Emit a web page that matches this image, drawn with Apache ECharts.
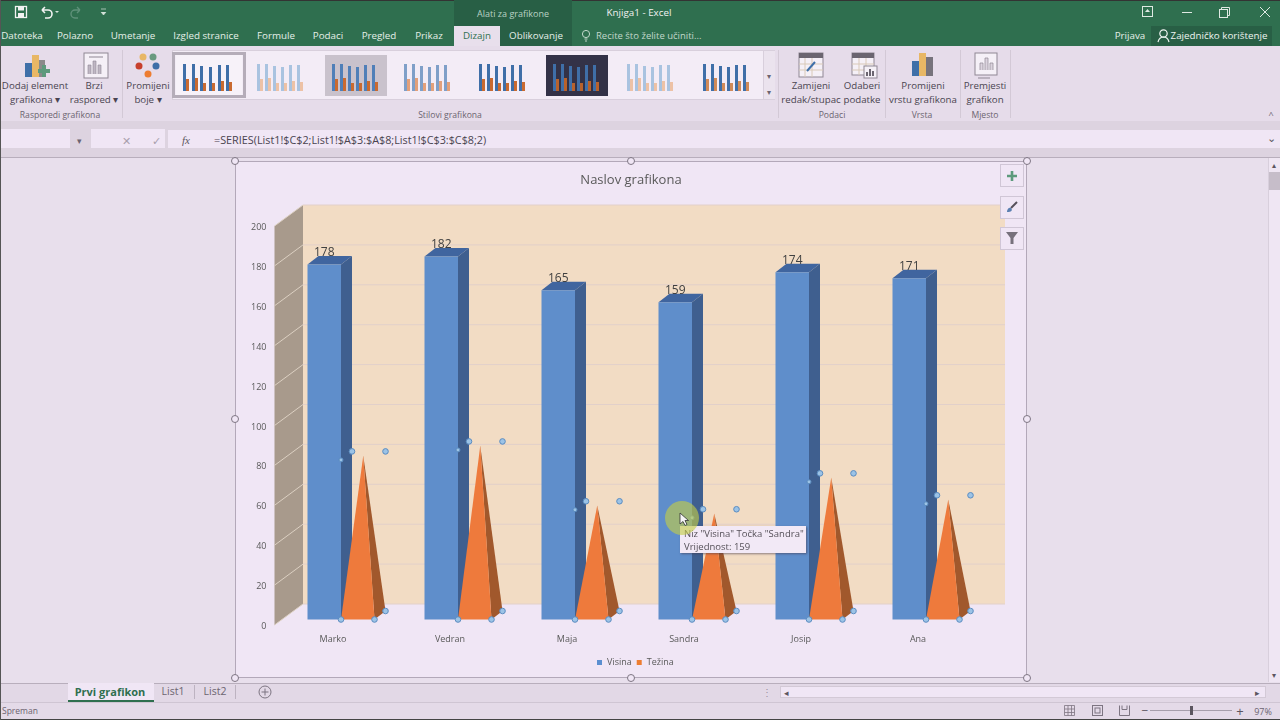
<!DOCTYPE html>
<html>
<head>
<meta charset="utf-8">
<title>Knjiga1 - Excel</title>
<script src="https://cdn.jsdelivr.net/npm/echarts@6/dist/echarts.min.js"></script>
<style>
  html, body { margin: 0; padding: 0; }
  body { width: 1280px; height: 720px; overflow: hidden; position: relative; background: #e8dfec; font-family: "Open Sans", "Noto Sans", sans-serif; }
  .box { position: absolute; box-sizing: border-box; }
  .t { position: absolute; white-space: nowrap; transform: translate(-50%, -50%); line-height: 1; }
  .l { transform: translate(0, -50%); }
  svg { position: absolute; overflow: visible; }
  #chart { position: absolute; left: 235px; top: 161px; width: 792px; height: 517px; }
</style>
</head>
<body>
<div id="chrome"></div>
<div id="chart"></div>
<div id="over"></div>
<script>
// values
var categories = ['Marko', 'Vedran', 'Maja', 'Sandra', 'Josip', 'Ana'];
var visina = [178, 182, 165, 159, 174, 171];
var tezina = [80, 85, 55, 51, 69, 58];
var yTicks = [0, 20, 40, 60, 80, 100, 120, 140, 160, 180, 200];

var chrome = document.getElementById('chrome');
var over = document.getElementById('over');

function box(parent, x, y, w, h, css) {
  var d = document.createElement('div');
  d.className = 'box';
  d.style.cssText = 'left:' + x + 'px;top:' + y + 'px;width:' + w + 'px;height:' + h + 'px;' + (css || '');
  parent.appendChild(d);
  return d;
}
function text(parent, s, x, y, size, color, left, css) {
  var d = document.createElement('div');
  d.className = left ? 't l' : 't';
  d.textContent = s;
  d.style.cssText = 'left:' + x + 'px;top:' + y + 'px;font-size:' + size + 'px;color:' + color + ';' + (css || '');
  parent.appendChild(d);
}
function icon(parent, x, y, w, h, inner) {
  var d = document.createElement('div');
  d.innerHTML = '<svg style="left:' + x + 'px;top:' + y + 'px" width="' + w + '" height="' + h + '">' + inner + '</svg>';
  parent.appendChild(d);
}

// window bands
box(chrome, 0, 0, 1280, 46, 'background:#2f6f4f');
box(chrome, 0, 0, 1280, 1, 'background:#333');
box(chrome, 454, 0, 118, 46, 'background:#285f45');
box(chrome, 454, 26, 46, 20, 'background:#e8dfec');
box(chrome, 1151, 26, 121, 20, 'background:#285f45');
box(chrome, 0, 46, 1280, 75, 'background:#e6dcea');
box(chrome, 0, 121, 1280, 36, 'background:#ddd3e0');
box(chrome, 0, 157, 1280, 1, 'background:#b8aebc');
box(chrome, 0, 129, 70, 19, 'background:#f0e6f5');
box(chrome, 91, 129, 74, 19, 'background:#f0e6f5');
box(chrome, 168, 130, 1112, 18, 'background:#f0e6f5');
[122, 778, 885, 960, 1010].forEach(function (x) { box(chrome, x, 50, 1, 68, 'background:#d3c9d6'); });

// title bar and tabs
text(chrome, 'Alati za grafikone', 513, 13, 9, '#b9d2c4');
text(chrome, 'Knjiga1 - Excel', 639, 13, 9.8, '#f2f2f2');
var tabs = [['Datoteka', 22], ['Polazno', 75], ['Umetanje', 133], ['Izgled stranice', 206], ['Formule', 276], ['Podaci', 328], ['Pregled', 379], ['Prikaz', 429], ['Oblikovanje', 536], ['Prijava', 1130]];
tabs.forEach(function (t) { text(chrome, t[0], t[1], 36, 9.8, '#e6efe9'); });
text(chrome, 'Dizajn', 477, 36, 9.8, '#2f6f4f');
icon(chrome, 582, 29, 8, 14, '<circle cx="4" cy="5" r="3.6" fill="none" stroke="#c2d8cb"/><path d="M2.5 10h3M3 12h2" stroke="#c2d8cb"/>');
text(chrome, 'Recite što želite učiniti...', 596, 36, 9.5, '#c2d8cb', true);
text(chrome, 'Zajedničko korištenje', 1219, 36, 9.8, '#eef4f0');

// ribbon labels
var ribbon = [['Dodaj element', 35, 85.5], ['grafikona ▾', 35, 99.5], ['Brzi', 94, 85.5], ['raspored ▾', 94, 99.5], ['Promijeni', 148, 85.5], ['boje ▾', 148, 99.5],
  ['Zamijeni', 811, 85.5], ['redak/stupac', 811, 99.5], ['Odaberi', 862, 85.5], ['podatke', 862, 99.5], ['Promijeni', 923, 85.5], ['vrstu grafikona', 923, 99.5], ['Premjesti', 985, 85.5], ['grafikon', 985, 99.5]];
ribbon.forEach(function (t) { text(chrome, t[0], t[1], t[2], 9.7, '#4a4450'); });
[['Rasporedi grafikona', 60], ['Stilovi grafikona', 450], ['Podaci', 832], ['Vrsta', 922], ['Mjesto', 985]].forEach(function (t) {
  text(chrome, t[0], t[1], 114.5, 8.6, '#6c6470');
});
text(chrome, '=SERIES(List1!$C$2;List1!$A$3:$A$8;List1!$C$3:$C$8;2)', 214, 140, 10.8, '#4a4450', true);
text(chrome, '✕', 126, 140, 11, '#a9a0ad');
text(chrome, '✓', 156, 140, 11, '#a9a0ad');
text(chrome, 'fx', 186, 140, 11, '#5c5660', false, 'font-style:italic;font-family:"Liberation Serif",serif');
text(chrome, '▾', 79, 140, 9, '#6c6470');
text(chrome, '⌄', 1271, 137, 11, '#5c5660');
text(chrome, '^', 1271, 114, 9, '#6c6470');

// chart style gallery
box(chrome, 172, 50, 603, 50, 'background:#f3ecf6;border:1px solid #d8cfdc');
var gallery = [[176, 66, '#f7f2f9', '#3f6fa8', '#c96a30'], [250, 62, '#f3ecf6', '#a9c3e0', '#edc2a6'], [325, 62, '#c9c2cc', '#4f7fb8', '#c96a30'],
  [397, 62, '#f3ecf6', '#7f9fc8', '#e3a07a'], [472, 62, '#f3ecf6', '#3f6fa8', '#c96a30'], [546, 62, '#333247', '#3f6fa8', '#b8622c'],
  [620, 62, '#f3ecf6', '#a9c3e0', '#edc2a6'], [696, 62, '#f3ecf6', '#3f6fa8', '#d08a58']];
gallery.forEach(function (g) {
  box(chrome, g[0], 55, g[1], 41, 'background:' + g[2]);
  visina.forEach(function (v, i) {
    var left = g[0] + 7 + i * ((g[1] - 14) / 6);
    var hv = v * 0.15, ht = tezina[i] * 0.15;
    box(chrome, left, 91 - hv, 3, hv, 'background:' + g[3]);
    box(chrome, left + 3, 91 - ht, 3, ht, 'background:' + g[4]);
  });
});
box(chrome, 172, 52, 74, 46, 'border:3px solid #b5adb9');
box(chrome, 763, 51, 12, 48, 'background:#ebe3ee;border-left:1px solid #d8cfdc');
text(chrome, '▾', 769, 76, 8, '#6c6470');
text(chrome, '▾', 769, 92, 8, '#6c6470');

// ribbon icons
icon(chrome, 24, 52, 26, 28, '<rect x="1" y="11" width="7" height="14" fill="#3f6fa8"/><rect x="8" y="3" width="7" height="22" fill="#e8b765"/><rect x="15" y="8" width="6" height="17" fill="#8a8a8a"/><path d="M20 13v12M14 19h12" stroke="#5d9a7c" stroke-width="4"/>');
icon(chrome, 83, 52, 26, 28, '<rect x="1" y="1" width="24" height="25" fill="#f5f0f7" stroke="#8f8794"/><path d="M6 5h14" stroke="#8f8794"/><path d="M5 22v-9h3v9M10 22v-13h3v13M15 22v-9h3v9" fill="#bfb7c3" stroke="#8f8794" stroke-width=".6"/>');
icon(chrome, 134, 52, 28, 28, '<circle cx="9" cy="5" r="3.5" fill="#e8b765"/><circle cx="19" cy="5" r="3.5" fill="#6a9a80"/><circle cx="5" cy="14" r="3.5" fill="#c7402d"/><circle cx="22" cy="14" r="3.5" fill="#3f6fa8"/><circle cx="14" cy="22" r="3.5" fill="#ed7d31"/>');
icon(chrome, 798, 52, 26, 28, '<rect x="1" y="1" width="24" height="24" fill="#f5f0f7" stroke="#8f8794"/><rect x="1" y="1" width="24" height="5" fill="#6b6570"/><path d="M7 6v19M14 6v19M1 12h24M1 18h24" stroke="#d9c9b8"/><path d="M9 19l8-9" stroke="#3f6fa8" stroke-width="2"/>');
icon(chrome, 851, 52, 26, 28, '<rect x="1" y="1" width="22" height="22" fill="#f5f0f7" stroke="#8f8794"/><rect x="1" y="1" width="22" height="5" fill="#6b6570"/><path d="M8 6v17M15 6v17M1 12h22M1 18h22" stroke="#d9c9b8"/><rect x="13" y="14" width="13" height="12" fill="#f5f0f7" stroke="#8f8794"/><path d="M16 24v-4M19 24v-7M22 24v-5" stroke="#6b6570" stroke-width="2"/>');
icon(chrome, 911, 52, 24, 26, '<rect x="1" y="9" width="7" height="15" fill="#3f6fa8"/><rect x="8" y="1" width="7" height="23" fill="#e8b765"/><rect x="15" y="5" width="7" height="19" fill="#77737c"/>');
icon(chrome, 974, 52, 24, 28, '<rect x="1" y="1" width="22" height="22" fill="#f5f0f7" stroke="#8f8794"/><path d="M6 18v-7h3v7M11 18v-12h3v12M16 18v-7h3v7" fill="#dcd4df" stroke="#8f8794" stroke-width=".7"/><path d="M4 26h12" stroke="#8f8794"/>');

// title bar icons
icon(chrome, 15, 6, 12, 12, '<rect x=".5" y=".5" width="11" height="11" fill="none" stroke="#f2f2f2" stroke-width="1.3"/><rect x="3" y="1" width="6" height="3.5" fill="#f2f2f2"/><rect x="3" y="7" width="6" height="4" fill="#f2f2f2"/>');
icon(chrome, 40, 6, 20, 12, '<path d="M2 4h6a4 4 0 0 1 0 8H5M2 4l3-3M2 4l3 3" fill="none" stroke="#f2f2f2" stroke-width="1.6"/><path d="M15 5l2 2 2-2" fill="#d5e2da"/>');
icon(chrome, 68, 6, 18, 12, '<path d="M12 4H7a4 4 0 0 0 0 8h3M12 4L9 1M12 4L9 7" fill="none" stroke="#5f917a" stroke-width="1.4"/>');
icon(chrome, 100, 8, 8, 8, '<path d="M1 1h5M1 4l2.5 3L6 4" fill="#d5e2da" stroke="#d5e2da" stroke-width=".7"/>');
icon(chrome, 1142, 6, 12, 12, '<rect x=".5" y=".5" width="10" height="10" fill="none" stroke="#dfe9e3"/><path d="M3 6l2.5-3L8 6z" fill="#dfe9e3"/>');
icon(chrome, 1182, 12, 10, 2, '<path d="M0 .5h10" stroke="#dfe9e3"/>');
icon(chrome, 1219, 7, 11, 11, '<rect x=".5" y="2.5" width="8" height="8" fill="none" stroke="#dfe9e3"/><path d="M2.5 2.5v-2h8v8h-2" fill="none" stroke="#dfe9e3"/>');
icon(chrome, 1260, 7, 10, 10, '<path d="M0 0l10 10M10 0L0 10" stroke="#dfe9e3"/>');
icon(chrome, 1157, 29, 14, 14, '<circle cx="6.5" cy="4.500" r="3.700" fill="none" stroke="#eef4f0" stroke-width="1.2"/><path d="M1 13c1-4 3-5 5.500-5s4.500 1 5.500 5" fill="none" stroke="#eef4f0" stroke-width="1.2"/>');

// sheet scrollbars, tabs, status bar
box(chrome, 1268, 158, 12, 524, 'background:#efe6f3;border-left:1px solid #d8cfdc');
box(chrome, 1269, 172, 11, 18, 'background:#c6bdc9');
text(chrome, '▴', 1274, 165, 8, '#5c5660');
text(chrome, '▾', 1274, 675, 8, '#5c5660');
box(chrome, 0, 683, 1280, 37, 'background:#e2d8e6;border-top:1px solid #b8aebc');
box(chrome, 68, 683, 86, 19, 'background:#f0e6f5;border-bottom:2px solid #2f6f4f');
box(chrome, 0, 702, 1280, 18, 'background:#e4dae8;border-top:1px solid #cfc5d3');
box(chrome, 0, 719, 1280, 1, 'background:#444');
box(chrome, 0, 0, 1, 720, 'background:#555');
text(chrome, 'Prvi grafikon', 110, 691, 11, '#2f6f4f', false, 'font-weight:700');
text(chrome, 'List1', 173, 691, 10.5, '#6c6470');
text(chrome, 'List2', 215, 691, 10.5, '#6c6470');
box(chrome, 194, 685, 1, 14, 'background:#bdb3c1');
box(chrome, 235, 685, 1, 14, 'background:#bdb3c1');
icon(chrome, 258, 685, 14, 14, '<circle cx="7" cy="7" r="6" fill="none" stroke="#7d7582"/><path d="M3.500 7h7M7 3.500v7" stroke="#7d7582"/>');
text(chrome, 'Spreman', 2, 711, 8.5, '#6c6470', true);
text(chrome, '97%', 1263, 711, 9, '#6c6470');
box(chrome, 780, 686, 486, 12, 'background:#f0e6f5;border:1px solid #d3c9d6');
text(chrome, '▸', 1257, 692, 9, '#5c5660');
text(chrome, '◂', 786, 692, 9, '#5c5660');
text(chrome, '⋮', 767, 692, 10, '#9a92a0');
icon(chrome, 1064, 705, 11, 11, '<path d="M.5.5h10v10H.5zM4 .5v10M7.500 .5v10M.5 4h10M.5 7.500h10" fill="none" stroke="#7d7582" stroke-width=".8"/>');
icon(chrome, 1092, 705, 11, 11, '<rect x=".5" y=".5" width="10" height="10" fill="none" stroke="#7d7582"/><rect x="3" y="3" width="5" height="5" fill="none" stroke="#7d7582"/>');
icon(chrome, 1119, 705, 11, 11, '<path d="M.5.5v10h10V.5M3 .5v4h5v-4" fill="none" stroke="#7d7582"/>');
box(chrome, 1150, 710, 82, 1, 'background:#a69eab');
box(chrome, 1190, 706, 3, 9, 'background:#5c5660');
text(chrome, '−', 1145, 711, 12, '#5c5660');
text(chrome, '+', 1240, 711, 13, '#5c5660');

// frame of the chart object
box(chrome, 235, 161, 792, 517, 'background:#f0e6f5;border:1px solid #b3a8b9');
[[235, 161], [631, 161], [1027, 161], [235, 419], [1027, 419], [235, 678], [631, 678], [1027, 678]].forEach(function (h) {
  box(over, h[0] - 4, h[1] - 4, 8, 8, 'background:#f0e6f5;border:1.3px solid #7d7582;border-radius:50%');
});
[[1000, 164], [1000, 196], [1000, 227]].forEach(function (b) {
  box(over, b[0], b[1], 24, 23, 'background:#f0e6f5;border:1px solid #d0c6d6');
});
icon(over, 1006, 170, 12, 12, '<path d="M6 1v10M1 6h10" stroke="#5d9a7c" stroke-width="2.6"/>');
icon(over, 1006, 201, 12, 12, '<path d="M11 1L5 7" stroke="#55505a" stroke-width="2"/><path d="M1 11c0-3 2-5 4-4l1 2c-1 2-3 2-5 2z" fill="#5a7fb0"/>');
icon(over, 1006, 232, 12, 12, '<path d="M0 0h12L7.500 6v6h-3V6z" fill="#77717c"/>');

// hover tooltip over Sandra and the recorded cursor
box(over, 680, 526, 126, 27, 'background:#f2e9f6;box-shadow:1px 1px 2px rgba(70,60,80,.6)');
text(over, 'Niz "Visina" Točka "' + categories[3] + '"', 684, 533.5, 9.5, '#555058', true);
text(over, 'Vrijednost: ' + visina[3], 684, 546.5, 9.5, '#555058', true);
box(over, 665, 501, 34, 34, 'background:rgba(196,205,70,.62);border-radius:50%');
icon(over, 679, 512, 10, 15, '<path d="M1 1v11l3-2.500 2 4 2-1-2-4h3.500z" fill="#f5f5f5" stroke="#333" stroke-width=".8"/>');

// depth of the 3D box, in pixels
var wallDx = 28.5, wallDy = -21;
var floorDx = 8, floorDy = -5.5;
var barDx = 11, barDy = -8.5;
var barWidth = 33.5;

function poly(points, fill) {
  return { type: 'polygon', shape: { points: points }, style: { fill: fill }, silent: true };
}

function renderWall(params, api) {
  var cs = params.coordSys;
  var y = api.coord([0, api.value(1)])[1];
  var children = [];
  if (params.dataIndex === 0) {
    children.push(poly([[cs.x + wallDx, cs.y + wallDy], [cs.x + cs.width + wallDx, cs.y + wallDy], [cs.x + cs.width + wallDx, cs.y + cs.height + wallDy], [cs.x + wallDx, cs.y + cs.height + wallDy]], '#f2dcc4'));
    children.push(poly([[cs.x, cs.y], [cs.x + wallDx, cs.y + wallDy], [cs.x + wallDx, cs.y + cs.height + wallDy], [cs.x, cs.y + cs.height]], '#a89a8c'));
  }
  children.push({ type: 'line', shape: { x1: cs.x, y1: y, x2: cs.x + wallDx, y2: y + wallDy }, style: { stroke: '#dcd0c2', lineWidth: 1 } });
  children.push({ type: 'line', shape: { x1: cs.x + wallDx, y1: y + wallDy, x2: cs.x + wallDx + cs.width, y2: y + wallDy }, style: { stroke: '#e2d0ca', lineWidth: 1 } });
  return { type: 'group', children: children };
}

function renderBar(params, api) {
  var p = api.coord([api.value(0), api.value(1)]);
  var b = api.coord([api.value(0), 0]);
  var x1 = b[0] + floorDx - barWidth;
  var x2 = b[0] + floorDx;
  var y0 = b[1] + floorDy;
  var y1 = p[1] + floorDy;
  return {
    type: 'group',
    children: [
      poly([[x2, y0], [x2 + barDx, y0 + barDy], [x2 + barDx, y1 + barDy], [x2, y1]], '#3f5f8f'),
      poly([[x1, y1], [x2, y1], [x2 + barDx, y1 + barDy], [x1 + barDx, y1 + barDy]], '#40659f'),
      poly([[x1, y0], [x2, y0], [x2, y1], [x1, y1]], '#5f8ecb'),
      { type: 'text', style: { text: String(api.value(1)), x: x1 + barWidth / 2, y: y1 - 12, align: 'center', verticalAlign: 'middle', fill: '#404040', fontSize: 12, fontFamily: 'Open Sans' } }
    ]
  };
}

function dot(x, y, r) {
  return { type: 'circle', shape: { cx: x, cy: y, r: r }, style: { fill: '#9cc3e6', stroke: '#5b8cc0', lineWidth: 1 } };
}

function renderPyramid(params, api) {
  var p = api.coord([api.value(0), api.value(1)]);
  var b = api.coord([api.value(0), 0]);
  var x1 = b[0] + floorDx;
  var x2 = x1 + barWidth;
  var y0 = b[1] + floorDy;
  var y1 = p[1] + floorDy;
  var apex = [x1 + barWidth / 2 + barDx / 2, y1 + barDy / 2];
  return {
    type: 'group',
    children: [
      poly([[x2, y0], [x2 + barDx, y0 + barDy], apex], '#a1582c'),
      poly([[x1, y0], [x2, y0], apex], '#ee7a3c'),
      dot(x1, y1, 2), dot(x1 + barDx, y1 + barDy, 2.8), dot(x2 + barDx, y1 + barDy, 2.8),
      dot(x1, y0, 2.8), dot(x2, y0, 2.8), dot(x2 + barDx, y0 + barDy, 2.8)
    ]
  };
}

var chart = echarts.init(document.getElementById('chart'));
chart.setOption({
  animation: false,
  backgroundColor: 'transparent',
  title: {
    text: 'Naslov grafikona', left: 'center', top: 8,
    textStyle: { fontSize: 13, fontWeight: 'normal', color: '#595959', fontFamily: 'Open Sans' }
  },
  legend: {
    data: ['Visina', 'Težina'], top: 492, left: 357, icon: 'rect', itemWidth: 5, itemHeight: 5, itemGap: 5,
    textStyle: { fontSize: 9, color: '#595959', fontFamily: 'Open Sans' }
  },
  grid: { left: 39.5, top: 65, width: 702, height: 399 },
  xAxis: {
    type: 'category', data: categories,
    axisLine: { show: false }, axisTick: { show: false },
    axisLabel: { fontSize: 9, color: '#595959', margin: 10, fontFamily: 'Open Sans' }
  },
  yAxis: {
    type: 'value', min: 0, max: 200, interval: 20,
    axisLine: { show: false }, axisTick: { show: false }, splitLine: { show: false },
    axisLabel: {
      margin: 8, formatter: '{tick|{value}}',
      rich: { tick: { fontSize: 9, color: '#595959', fontFamily: 'Open Sans', padding: [3, 0, 0, 0] } }
    }
  },
  series: [
    { type: 'custom', name: 'walls', renderItem: renderWall, data: yTicks.map(function (v) { return [0, v]; }), encode: { x: 0, y: 1 }, silent: true, z: 1 },
    { type: 'custom', name: 'Visina', renderItem: renderBar, itemStyle: { color: '#5b8fd0' }, data: visina.map(function (v, i) { return [i, v]; }), encode: { x: 0, y: 1 }, z: 2 },
    { type: 'custom', name: 'Težina', renderItem: renderPyramid, itemStyle: { color: '#ed7d31' }, data: tezina.map(function (v, i) { return [i, v]; }), encode: { x: 0, y: 1 }, z: 3 }
  ]
});
</script>
</body>
</html>
